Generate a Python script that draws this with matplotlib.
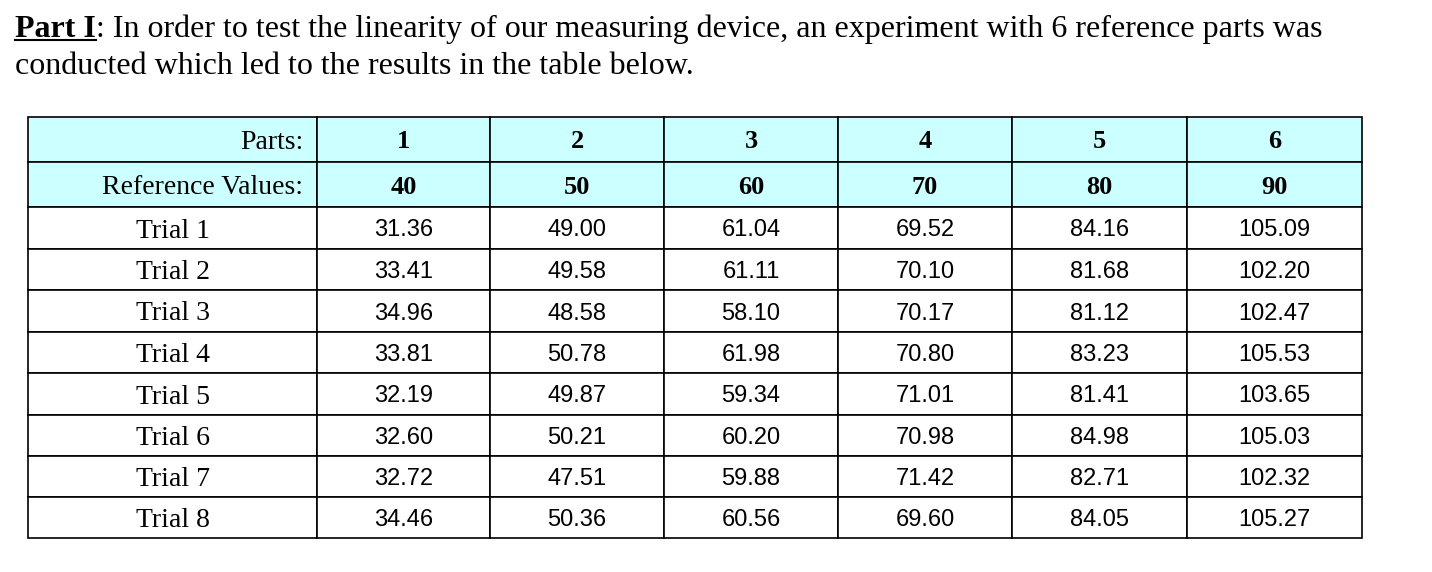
import matplotlib
matplotlib.use("Agg")
import matplotlib.pyplot as plt
from matplotlib.patches import Rectangle

parts = ["1", "2", "3", "4", "5", "6"]
ref_values = ["40", "50", "60", "70", "80", "90"]
trials = ["Trial 1", "Trial 2", "Trial 3", "Trial 4", "Trial 5", "Trial 6", "Trial 7", "Trial 8"]
measurements = [
    [31.36, 49.00, 61.04, 69.52, 84.16, 105.09],
    [33.41, 49.58, 61.11, 70.10, 81.68, 102.20],
    [34.96, 48.58, 58.10, 70.17, 81.12, 102.47],
    [33.81, 50.78, 61.98, 70.80, 83.23, 105.53],
    [32.19, 49.87, 59.34, 71.01, 81.41, 103.65],
    [32.60, 50.21, 60.20, 70.98, 84.98, 105.03],
    [32.72, 47.51, 59.88, 71.42, 82.71, 102.32],
    [34.46, 50.36, 60.56, 69.60, 84.05, 105.27],
]

serif = "Liberation Serif"
sans = "Liberation Sans"
cyan = "#ccffff"

fig = plt.figure(figsize=(14.32, 5.72), dpi=100)
ax = fig.add_axes([0, 0, 1, 1])
ax.set_xlim(0, 1432)
ax.set_ylim(572, 0)
ax.axis("off")

# heading
t1 = ax.text(15, 26, "Part I", fontsize=23, family=serif, weight="bold", va="center_baseline")
fig.canvas.draw()
bb = t1.get_window_extent().transformed(ax.transData.inverted())
x0, x1 = bb.x0, bb.x1
ax.plot([x0, x1], [40, 40], color="black", lw=1.5)
ax.text(x1, 26, ": In order to test the linearity of our measuring device, an experiment with 6 reference parts was",
        fontsize=23, family=serif, va="center_baseline")
ax.text(15, 63, "conducted which led to the results in the table below.", fontsize=23, family=serif,
        va="center_baseline")

col_edges = [28, 317, 490, 664, 838, 1012, 1187, 1362]
row_edges = [117, 162, 207, 249, 290, 332, 373, 415, 456, 497, 538]

for r in range(len(row_edges) - 1):
    for c in range(len(col_edges) - 1):
        fc = cyan if r < 2 else "white"
        ax.add_patch(Rectangle((col_edges[c], row_edges[r]), col_edges[c + 1] - col_edges[c],
                               row_edges[r + 1] - row_edges[r], facecolor=fc, edgecolor="black", lw=1.2))

def cy(r):
    return (row_edges[r] + row_edges[r + 1]) / 2

def cx(c):
    return (col_edges[c] + col_edges[c + 1]) / 2

ax.text(col_edges[1] - 14, cy(0), "Parts:", family=serif, fontsize=20, ha="right", va="center_baseline")
ax.text(col_edges[1] - 14, cy(1), "Reference Values:", family=serif, fontsize=20, ha="right",
        va="center_baseline")
for c, (p, v) in enumerate(zip(parts, ref_values)):
    ax.text(cx(c + 1), cy(0), p, family=serif, weight="bold", fontsize=19, ha="center", va="center_baseline")
    ax.text(cx(c + 1), cy(1), v, family=serif, weight="bold", fontsize=19, ha="center", va="center_baseline")

for i, (name, row) in enumerate(zip(trials, measurements)):
    ax.text(cx(0), cy(i + 2), name, family=serif, fontsize=20, ha="center", va="center_baseline")
    for c, val in enumerate(row):
        ax.text(cx(c + 1), cy(i + 2), "{:.2f}".format(val), family=sans, fontsize=17,
                ha="center", va="center_baseline")

fig.savefig("out.png", dpi=100)
